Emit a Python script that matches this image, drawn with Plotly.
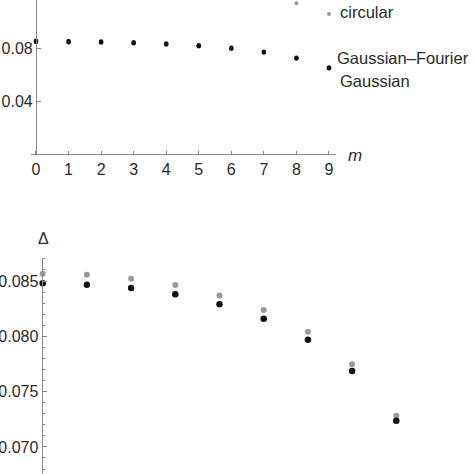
import plotly.graph_objects as go

# ---- data ----
m = list(range(10))
circular = [0.129, 0.1285, 0.128, 0.127, 0.126, 0.1245, 0.1225, 0.1195, 0.114, 0.106]
gauss_fourier = [0.08566, 0.08557, 0.08521, 0.08464, 0.0837, 0.08238, 0.08042, 0.07747, 0.07282, 0.0655]
gaussian = [0.08479, 0.08467, 0.08437, 0.0838, 0.08289, 0.08159, 0.07969, 0.07686, 0.07237, 0.0650]
top_yticks = [0.04, 0.08, 0.12]
bottom_yticks = [0.070, 0.075, 0.080, 0.085]

W = H = 474
FONT = "Liberation Sans, Arial, sans-serif"
TXT = "#2b2b2b"
AX = "#8a8a8a"
GREY = "#9a9a9a"
BLACK = "#111111"

fig = go.Figure()

# top panel
fig.add_trace(go.Scatter(x=m, y=circular, mode="markers", xaxis="x", yaxis="y",
                         marker=dict(color=GREY, size=4), cliponaxis=False, showlegend=False))
fig.add_trace(go.Scatter(x=m, y=gauss_fourier, mode="markers", xaxis="x", yaxis="y",
                         marker=dict(color=BLACK, size=4.5), cliponaxis=False, showlegend=False))
fig.add_trace(go.Scatter(x=m, y=gaussian, mode="markers", xaxis="x", yaxis="y",
                         marker=dict(color=BLACK, size=4.5), cliponaxis=False, showlegend=False))

# bottom panel
fig.add_trace(go.Scatter(x=m, y=gauss_fourier, mode="markers", xaxis="x2", yaxis="y2",
                         marker=dict(color=GREY, size=6), cliponaxis=False, showlegend=False))
fig.add_trace(go.Scatter(x=m, y=gaussian, mode="markers", xaxis="x2", yaxis="y2",
                         marker=dict(color=BLACK, size=6.5), cliponaxis=False, showlegend=False))

tickfont = dict(family=FONT, size=16, color=TXT)

fig.update_layout(
    template="none",
    width=W, height=H, margin=dict(l=0, r=0, t=0, b=0, autoexpand=False),
    paper_bgcolor="white", plot_bgcolor="white",
    font=dict(family=FONT, color=TXT),
    xaxis=dict(domain=[31.1 / W, 335.5 / W], range=[-0.15, 9.2], anchor="y",
               showline=True, linecolor=AX, linewidth=1.2, ticks="inside", ticklen=3,
               tickcolor=AX, tickvals=m, tickfont=tickfont, showgrid=False, zeroline=False,
               automargin=False),
    yaxis=dict(domain=[1 - 154.3 / H, 1], range=[0, 0.1165], anchor="free", position=36 / W,
               showline=True, linecolor=AX, linewidth=1.2, ticks="inside", ticklen=4,
               tickcolor=AX, tickvals=top_yticks, tickformat=".2f", tickfont=tickfont,
               showgrid=False, zeroline=False, automargin=False),
    xaxis2=dict(domain=[42.7 / W, 1], range=[0, (W - 42.7) / 44.2], anchor="y2",
                visible=False, automargin=False),
    yaxis2=dict(domain=[0, 1 - 257.7 / H], range=[0.06755, 0.08711], anchor="x2",
                showline=True, linecolor=AX, linewidth=1.2, ticks="inside", ticklen=4,
                tickcolor=AX, tickvals=bottom_yticks, tickformat=".3f", tickfont=tickfont,
                showgrid=False, zeroline=False, automargin=False,
                minor=dict(dtick=0.001, ticks="inside", ticklen=2.5, tickcolor=AX, showgrid=False)),
    annotations=[
        dict(text="<i>m</i>", xref="paper", yref="paper", x=346 / W, y=1 - 155 / H,
             xanchor="left", yanchor="middle", showarrow=False,
             font=dict(family=FONT, size=17, color=TXT)),
        dict(text="Δ", xref="paper", yref="paper", x=43 / W, y=1 - 239 / H,
             xanchor="center", yanchor="middle", showarrow=False,
             font=dict(family=FONT, size=16, color=TXT)),
        dict(text="circular", xref="x", yref="y", x=m[-1], y=circular[-1],
             xanchor="left", yanchor="middle", xshift=9, yshift=1.5, showarrow=False,
             font=dict(family=FONT, size=16.5, color=TXT)),
        dict(text="Gaussian–Fourier", xref="x", yref="y", x=m[-1], y=gauss_fourier[-1],
             xanchor="left", yanchor="middle", xshift=6.5, yshift=9.5, showarrow=False,
             font=dict(family=FONT, size=16.5, color=TXT)),
        dict(text="Gaussian", xref="x", yref="y", x=m[-1], y=gaussian[-1],
             xanchor="left", yanchor="middle", xshift=9, yshift=-12.5, showarrow=False,
             font=dict(family=FONT, size=16.5, color=TXT)),
    ],
)

fig.write_html("out.html", config={"displayModeBar": False},
               post_script="document.body.style.margin='0';document.body.style.overflow='hidden';")
